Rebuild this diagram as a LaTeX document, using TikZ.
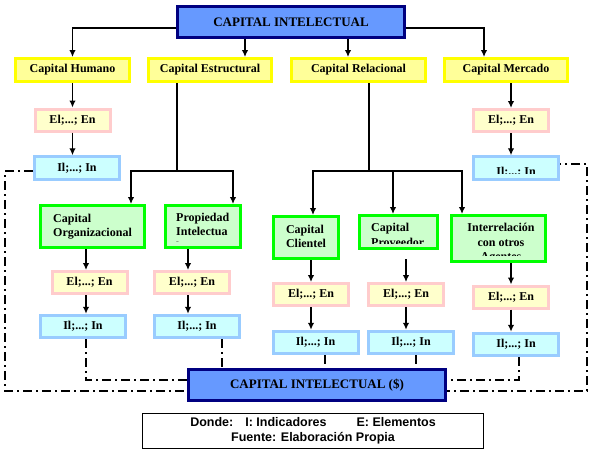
\documentclass[tikz,border=0pt]{standalone}
\usepackage{fontspec}
\setmainfont{Liberation Serif}
\newfontfamily\arialfont{Liberation Sans}
\usetikzlibrary{arrows.meta, calc}
\definecolor{navy}{HTML}{000080}
\definecolor{titleblue}{HTML}{6699FF}
\definecolor{capline}{HTML}{FFFF00}
\definecolor{capfill}{HTML}{FFFF99}
\definecolor{subline}{HTML}{00FF00}
\definecolor{subfill}{HTML}{CCFFCC}
\definecolor{elemline}{HTML}{FFCCCC}
\definecolor{elemfill}{HTML}{FFFFCC}
\definecolor{indline}{HTML}{99CCFF}
\definecolor{indfill}{HTML}{CCFFFF}
\newcommand{\boxfont}{\bfseries\fontsize{12}{14.5}\selectfont}
\tikzset{ci title/.style={draw=navy, fill=titleblue, line width=3pt, inner sep=0pt, font=\bfseries\fontsize{13}{15}\selectfont},
ci cap/.style={draw=capline, fill=capfill, line width=3pt, inner sep=0pt, minimum height=23pt, font=\boxfont},
ci sub/.style={draw=subline, fill=subfill, line width=3pt, inner sep=0pt, align=left, font=\boxfont},
ci elem/.style={draw=elemline, fill=elemfill, line width=3pt, inner sep=0pt, minimum width=75pt, minimum height=22pt, font=\boxfont},
ci ind/.style={draw=indline, fill=indfill, line width=3pt, inner sep=0pt, minimum width=85pt, minimum height=22.5pt, font=\boxfont},
ci text/.style={inner sep=0pt, align=left, font=\boxfont},
arr/.style={-{Latex[length=7pt,width=6.5pt]}, line width=1.8pt},
dashdot line/.style={line width=2pt, dash pattern=on 9pt off 4pt on 2pt off 4pt},}

\begin{document}
\begin{tikzpicture}[x=1pt, y=-1pt]
			\fill[white] (0,0) rectangle (593,455);
			% Boxes
			\node[ci title, minimum width=227pt, minimum height=31pt] (T) at (291,22) {CAPITAL INTELECTUAL};
			\node[ci cap, minimum width=114pt] (H) at (72.5,70) {Capital Humano};
			\node[ci cap, minimum width=123pt] (E) at (210,70) {Capital Estructural};
			\node[ci cap, minimum width=134pt] (R) at (358.5,70) {Capital Relacional};
			\node[ci cap, minimum width=123pt] (M) at (506,70) {Capital Mercado};
			\node[ci elem] (EH) at (72.5,120) {El;...; En};
			\node[ci ind] (IH) at (77,168) {Il;...; In};
			\node[ci elem] (EM) at (511,120.5) {El;...; En};
			\node[ci ind] (IM) at (516,168) {};
			\node[ci sub, minimum width=104pt, minimum height=42pt] (O) at (92.5,226.5) {Capital\\Organizacional};
			\node[ci sub, minimum width=75pt, minimum height=42pt] (P) at (203,226.5) {};
			\node[ci sub, minimum width=65pt, minimum height=42pt] (Cl) at (306,237.5) {Capital\\Clientel\vphantom{g}};
			\node[ci sub, minimum width=78pt, minimum height=33pt] (Pv) at (398.5,232) {};
			\node[ci sub, minimum width=94pt, minimum height=46pt] (In) at (498.5,238.5) {};
			\node[ci elem] (EO) at (89.5,282.5) {El;...; En};
			\node[ci ind] (IO) at (83,326.5) {Il;...; In};
			\node[ci elem] (EP) at (192,282.5) {El;...; En};
			\node[ci ind] (IP) at (197,326.5) {Il;...; In};
			\node[ci elem] (ECl) at (311,294.5) {El;...; En};
			\node[ci ind] (ICl) at (315.5,342.5) {Il;...; In};
			\node[ci elem] (EPv) at (406,294.5) {El;...; En};
			\node[ci ind] (IPv) at (411,342.5) {Il;...; In};
			\node[ci elem] (EIn) at (511,297) {El;...; En};
			\node[ci ind] (IIn) at (516,344.5) {Il;...; In};
			% Cut texts
			\begin{scope}
				\clip (170,205) rectangle (240,241);
				\node[ci text, anchor=north west] at (176,212.5) {Propiedad\\Intelectua\\l};
			\end{scope}
			\begin{scope}
				\clip (362,215) rectangle (436,243);
				\node[ci text, anchor=north west] at (371,223) {Capital\\Proveedor};
			\end{scope}
			\begin{scope}
				\clip (453,215) rectangle (544,255);
				\node[ci text, align=center, anchor=north] at (501,223) {Interrelación\\con otros\\Agentes};
			\end{scope}
			\begin{scope}
				\clip (474,157) rectangle (558,173.5);
				\node[ci text] at (516,172.5) {Il;...; In};
			\end{scope}
			% Paths
			\draw[arr] ([yshift=-6pt]T.west) -| (H.north);
			\draw[arr] (T.south -| 245,0) -- (E.north -| 245,0);
			\draw[arr] (T.south -| 348,0) -- (R.north -| 348,0);
			\draw[arr] ([yshift=-6pt]T.east) -| (M.north -| 484,0);
			\draw[arr] (H.south) -- (EH.north);
			\draw[arr] (EH.south) -- (EH.south |- IH.north);
			\draw[arr] (M.south -| 511,0) -- (EM.north);
			\draw[arr] (EM.south) -- (EM.south |- IM.north);
			\coordinate (eb) at (177,171);
			\coordinate (rb) at (369,171);
			\draw[line width=1.8pt] (E.south -| eb) -- (eb);
			\draw[line width=1.8pt] (R.south -| rb) -- (rb);
			\draw[arr] (eb) -| (O.north -| 131,0);
			\draw[arr] (eb) -| (P.north -| 233,0);
			\draw[arr] (rb) -| (Cl.north -| 313,0);
			\draw[arr] (rb) -| (Pv.north -| 393,0);
			\draw[arr] (rb) -| (In.north -| 462,0);
			\draw[arr] (O.south -| 86,0) -- (EO.north -| 86,0);
			\draw[arr] (EO.south -| 86,0) -- (IO.north -| 86,0);
			\draw[arr] (P.south -| 188,0) -- (EP.north -| 188,0);
			\draw[arr] (EP.south -| 188,0) -- (IP.north -| 188,0);
			\draw[arr] (Cl.south -| 311,0) -- (ECl.north);
			\draw[arr] (ECl.south) -- (ICl.north -| 311,0);
			\coordinate (pv0) at (406,259);
			\draw[arr] (pv0) -- (EPv.north);
			\draw[arr] (EPv.south) -- (IPv.north -| 406,0);
			\draw[arr] (In.south -| 511,0) -- (EIn.north);
			\draw[arr] (EIn.south) -- (IIn.north -| 511,0);
			% Loop
			\coordinate (lc) at (5,391);
			\coordinate (rc) at (587,391);
			\draw[dashdot line] ([yshift=-3pt]IH.west) -| (lc) -- (rc) |- ([yshift=4pt]IM.east);
			\node[ci title, minimum width=257pt, minimum height=31pt] (B) at (317,385) {CAPITAL INTELECTUAL (\$)};
			\draw[dashdot line] (IO.south -| 86,0) |- ([yshift=5pt]B.west);
			\draw[dashdot line] (IP.south -| 222,0) -- (B.north -| 222,0);
			\draw[dashdot line] (ICl.south -| 325,0) -- (B.north -| 325,0);
			\draw[dashdot line] (IPv.south -| 416,0) -- (B.north -| 416,0);
			\draw[dashdot line] (IIn.south -| 519,0) |- ([yshift=5pt]B.east);
			% Legend
			\node[draw, line width=1pt, fill=white, minimum width=341pt, minimum height=35pt, align=center, inner sep=0pt, font=\arialfont\bfseries\fontsize{12.5}{15}\selectfont] (L) at (313,431) {Donde:\hspace{12pt}I: Indicadores\hspace{30pt}E: Elementos\\Fuente: Elaboración Propia};
		\end{tikzpicture}
\end{document}
